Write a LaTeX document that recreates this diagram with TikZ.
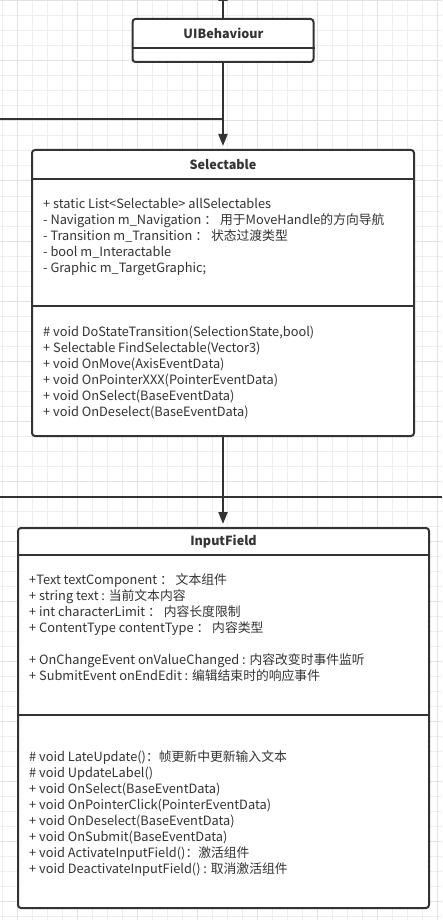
\documentclass[tikz,border=0pt]{standalone}
\usepackage{fontspec}
\setmainfont{Noto Sans CJK SC}
\usepackage{xcolor}
\usetikzlibrary{arrows.meta,positioning}

\definecolor{ink}{HTML}{333333}
\definecolor{gridminor}{HTML}{EEEEEE}
\definecolor{gridmajor}{HTML}{E2E2E2}

\tikzset{
  classbox/.style={draw=ink, line width=2pt, rounded corners=3pt, fill=white},
  divider/.style={draw=ink, line width=2pt},
  link/.style={draw=ink, line width=2pt},
  inherit/.style={link, -{Triangle[length=12pt, width=9pt]}, shorten >=3pt},
  title/.style={font=\fontsize{12.6}{16}\selectfont\bfseries, text=ink, inner sep=0pt},
  member/.style={font=\fontsize{12.8}{16}\selectfont, text=ink, inner sep=0pt, anchor=base west},
}

\begin{document}
\begin{tikzpicture}[x=1pt, y=-1pt]
  \useasboundingbox (0,0) rectangle (442,920);
  \clip (0,0) rectangle (442,920);
  % 背景网格
  \fill[white] (0,0) rectangle (442,920);
  \foreach \gx in {2,17,...,440} \draw[gridminor, line width=1pt] (\gx,0) -- (\gx,920);
  \foreach \gy in {1,16,...,919} \draw[gridminor, line width=1pt] (0,\gy) -- (442,\gy);
  \foreach \gx in {17,77,...,440} \draw[gridmajor, line width=1pt] (\gx,0) -- (\gx,920);
  \foreach \gy in {1,61,...,919} \draw[gridmajor, line width=1pt] (0,\gy) -- (442,\gy);

  % 类框
  \node[classbox, minimum width=181pt, minimum height=43pt] (uib) at (223,40.5) {};
  \node[classbox, minimum width=382pt, minimum height=286pt] (sel) at (223,293) {};
  \node[classbox, minimum width=411pt, minimum height=380pt] (ifd) at (223.5,718) {};

  % 分隔线
  \draw[divider] ([yshift=-30pt]uib.north west) -- ([yshift=-30pt]uib.north east);
  \draw[divider] ([yshift=-30pt]sel.north west) -- ([yshift=-30pt]sel.north east);
  \draw[divider] ([yshift=-157pt]sel.north west) -- ([yshift=-157pt]sel.north east);
  \draw[divider] ([yshift=-28pt]ifd.north west) -- ([yshift=-28pt]ifd.north east);
  \draw[divider] ([yshift=-188pt]ifd.north west) -- ([yshift=-188pt]ifd.north east);

  % 类名
  \node[title, anchor=base] (uibname) at (223.5,38.5) {UIBehaviour};
  \node[title, anchor=base] (selname) at (223,169.5) {Selectable};
  \node[title, anchor=base] (ifdname) at (223.5,545.5) {InputField};

  % Selectable 成员
  \foreach \txt [count=\i] in {
      + static List<Selectable> allSelectables,
      - Navigation m\_Navigation ： 用于MoveHandle的方向导航,
      - Transition m\_Transition ： 状态过渡类型,
      - bool m\_Interactable,
      - Graphic m\_TargetGraphic;}
    \node[member] (sa\i) at (43,208.5+16*\i-16) {\txt};
  \foreach \txt [count=\i] in {
      {\# void DoStateTransition(SelectionState,bool)},
      + Selectable FindSelectable(Vector3),
      + void OnMove(AxisEventData),
      + void OnPointerXXX(PointerEventData),
      + void OnSelect(BaseEventData),
      + void OnDeselect(BaseEventData)}
    \node[member] (sm\i) at (43,336.5+16*\i-16) {\txt};

  % InputField 成员
  \foreach \row/\txt in {
      0/+Text textComponent ： 文本组件,
      1/+ string text : 当前文本内容,
      2/+ int characterLimit ： 内容长度限制,
      3/+ ContentType contentType ： 内容类型,
      5/+ OnChangeEvent onValueChanged : 内容改变时事件监听,
      6/+ SubmitEvent onEndEdit : 编辑结束时的响应事件}
    \node[member] (ia\row) at (29,584.5+16*\row) {\txt};
  \foreach \txt [count=\i] in {
      \# void LateUpdate()：帧更新中更新输入文本,
      \# void UpdateLabel(),
      + void OnSelect(BaseEventData),
      + void OnPointerClick(PointerEventData),
      + void OnDeselect(BaseEventData),
      + void OnSubmit(BaseEventData),
      + void ActivateInputField()：激活组件,
      + void DeactivateInputField() : 取消激活组件}
    \node[member] (im\i) at (29,761+16*\i-16) {\txt};

  % 继承连线
  \coordinate (up) at (223,-11);
  \coordinate (j1) at (223,119);
  \coordinate (w1) at (0,119);
  \coordinate (w2) at (0,497);
  \coordinate (e2) at (442,497);
  \draw[inherit, shorten >=0pt] (uib.north) -- (up);
  \draw[link] (w1) -- (j1);
  \draw[inherit] (uib.south) -- (sel.north);
  \draw[link] (w2) -- (e2);
  \draw[inherit] (sel.south) -- (sel.south |- ifd.north);
\end{tikzpicture}
\end{document}
